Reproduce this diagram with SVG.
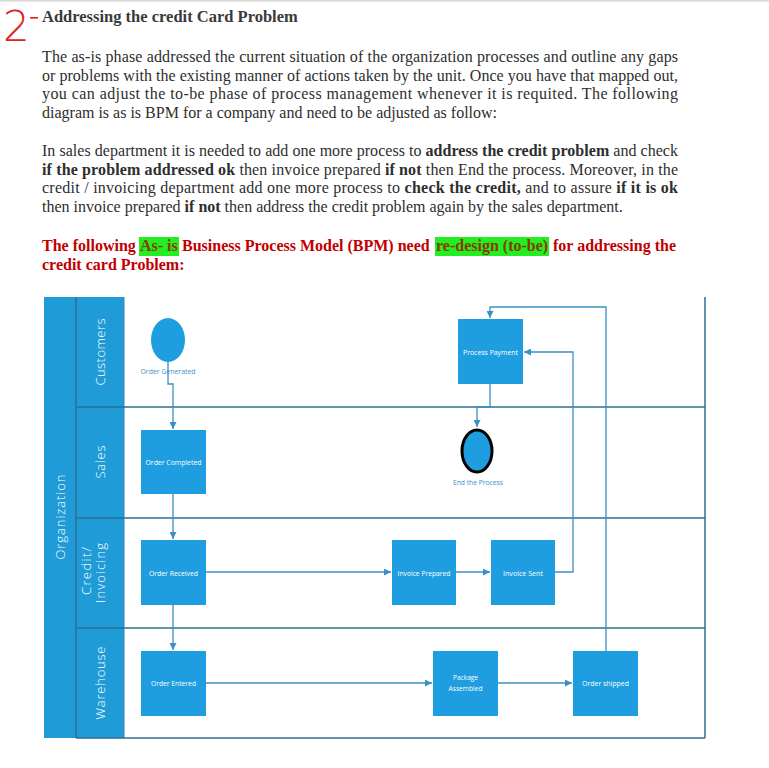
<svg xmlns="http://www.w3.org/2000/svg" width="769" height="768" viewBox="0 0 769 768">
<style>
.body{font-family:"Liberation Serif","Times New Roman",serif;font-size:16px;fill:#2e2e2e}
.b{font-weight:bold}
.red{font-family:"Liberation Serif","Times New Roman",serif;font-size:16px;font-weight:bold;fill:#c00000}
.hl{fill:#22ee22}
.box{fill:#1e9de0}
.hdr{fill:#1f9bd8}
.lane{stroke:#2f6f94;stroke-width:1.5;fill:none}
.conn{stroke:#3a8fc6;stroke-width:1.3;fill:none}
.lbl{font-family:"Open Sans","Noto Sans",sans-serif;font-size:8px;fill:#ffffff;text-anchor:middle}
.lblb{font-family:"Open Sans","Noto Sans",sans-serif;font-size:8px;fill:#3a8fc6;text-anchor:middle}
.lt{font-family:"Open Sans","Noto Sans",sans-serif;font-size:13px;font-weight:300;fill:#ffffff;text-anchor:middle}
</style>
<defs>
<marker id="arr" viewBox="0 0 10 10" refX="10" refY="5" markerWidth="7" markerHeight="7" orient="auto" markerUnits="userSpaceOnUse">
<path d="M0,0 L10,5 L0,10 z" fill="#3a8fc6"/>
</marker>
</defs>
<rect x="0" y="0" width="769" height="768" fill="#ffffff"/>
<rect x="0" y="0" width="769" height="1.5" fill="#d8d8d8"/>

<g id="heading">
<text x="3" y="41" font-family="DejaVu Sans, sans-serif" font-weight="200" font-size="42" fill="#e0201c">2</text>
<rect x="30" y="17" width="8" height="1.6" fill="#e0201c"/>
<text x="42" y="22" font-family="Liberation Serif, serif" font-weight="bold" font-size="16.5" fill="#3a3a3a">Addressing the credit Card Problem</text>
</g>

<g id="para1" class="body">
<text x="42" y="62" textLength="636" lengthAdjust="spacing">The as-is phase addressed the current situation of the organization processes and outline any gaps</text>
<text x="42" y="80.5" textLength="636" lengthAdjust="spacing">or problems with the existing manner of actions taken by the unit. Once you have that mapped out,</text>
<text x="42" y="99" textLength="636" lengthAdjust="spacing">you can adjust the to-be phase of process management whenever it is requited. The following</text>
<text x="42" y="117.5">diagram is as is BPM for a company and need to be adjusted as follow:</text>
</g>

<g id="para2" class="body">
<text x="42" y="156" textLength="636" lengthAdjust="spacing">In sales department it is needed to add one more process to <tspan class="b">address the credit problem</tspan> and check</text>
<text x="42" y="174.5" textLength="636" lengthAdjust="spacing"><tspan class="b">if the problem addressed ok</tspan> then invoice prepared <tspan class="b">if not</tspan> then End the process. Moreover, in the</text>
<text x="42" y="193" textLength="636" lengthAdjust="spacing">credit / invoicing department add one more process to <tspan class="b">check the credit,</tspan> and to assure <tspan class="b">if it is ok</tspan></text>
<text x="42" y="211.5">then invoice prepared <tspan class="b">if not</tspan> then address the credit problem again by the sales department.</text>
</g>

<g id="para3">
<rect class="hl" x="139" y="237" width="40" height="19"/>
<rect class="hl" x="435" y="237" width="114" height="19"/>
<text class="red" y="251"><tspan x="42">The following</tspan><tspan x="140" fill="#8a3a00">As- is</tspan><tspan x="182">Business Process Model (BPM) need</tspan><tspan x="436" fill="#8a3a00">re-design (to-be)</tspan><tspan x="553">for addressing the</tspan></text>
<text class="red" x="42" y="270">credit card Problem:</text>
</g>

<g id="pool">
<rect class="hdr" x="44" y="297" width="32" height="441"/>
<rect class="hdr" x="76" y="297" width="48" height="441"/>
<line x1="76" y1="297" x2="76" y2="738" stroke="#2f6f94" stroke-width="1.5"/>
<line x1="124" y1="297" x2="124" y2="738" stroke="#2f8ac0" stroke-width="1"/>
<path class="lane" d="M76,407 H705 M76,518 H705 M76,628 H705 M76,738 H705 M705,297 V738"/>
<text class="lt" transform="translate(65,517) rotate(-90)" textLength="85" lengthAdjust="spacing">Organization</text>
</g>

<g id="lane-customers"><text class="lt" transform="translate(105,352) rotate(-90)" textLength="67" lengthAdjust="spacing">Customers</text></g>
<g id="lane-sales"><text class="lt" transform="translate(105,462) rotate(-90)" textLength="33" lengthAdjust="spacing">Sales</text></g>
<g id="lane-credit"><text class="lt" transform="translate(91,571) rotate(-90)" textLength="48" lengthAdjust="spacing">Credit/</text><text class="lt" transform="translate(105,573) rotate(-90)" textLength="60" lengthAdjust="spacing">Invoicing</text></g>
<g id="lane-warehouse"><text class="lt" transform="translate(105,683) rotate(-90)" textLength="73" lengthAdjust="spacing">Warehouse</text></g>

<g id="connectors">
<path class="conn" d="M168,362 V384 H173 V429" marker-end="url(#arr)"/>
<path class="conn" d="M173,494 V539" marker-end="url(#arr)"/>
<path class="conn" d="M173,605 V650" marker-end="url(#arr)"/>
<path class="conn" d="M206,572 H391" marker-end="url(#arr)"/>
<path class="conn" d="M456,572 H490" marker-end="url(#arr)"/>
<path class="conn" d="M555,572 H573 V352 H524" marker-end="url(#arr)"/>
<path class="conn" d="M206,683 H432" marker-end="url(#arr)"/>
<path class="conn" d="M498,683 H572" marker-end="url(#arr)"/>
<path class="conn" d="M606,651 V307 H490 V318" marker-end="url(#arr)"/>
<path class="conn" d="M490,384 V407 H477 V427" marker-end="url(#arr)"/>
</g>

<g id="order-generated">
<ellipse cx="168" cy="340" rx="17" ry="22" class="box"/>
<text class="lblb" x="168" y="374" textLength="55" lengthAdjust="spacingAndGlyphs">Order Generated</text>
</g>
<g id="order-completed">
<rect class="box" x="141" y="430" width="65" height="64"/>
<text class="lbl" x="173.5" y="465" textLength="56" lengthAdjust="spacingAndGlyphs">Order Completed</text>
</g>
<g id="order-received">
<rect class="box" x="141" y="540" width="65" height="65"/>
<text class="lbl" x="173.5" y="576" textLength="49" lengthAdjust="spacingAndGlyphs">Order Received</text>
</g>
<g id="order-entered">
<rect class="box" x="141" y="651" width="65" height="65"/>
<text class="lbl" x="173.5" y="686" textLength="45" lengthAdjust="spacingAndGlyphs">Order Entered</text>
</g>
<g id="process-payment">
<rect class="box" x="458" y="319" width="65" height="65"/>
<text class="lbl" x="490.5" y="355" textLength="55" lengthAdjust="spacingAndGlyphs">Process Payment</text>
</g>
<g id="end-process">
<ellipse cx="477" cy="451" rx="15" ry="21" class="box" stroke="#000000" stroke-width="3"/>
<text class="lblb" x="478" y="485" textLength="50" lengthAdjust="spacingAndGlyphs">End the Process</text>
</g>
<g id="invoice-prepared">
<rect class="box" x="392" y="540" width="64" height="65"/>
<text class="lbl" x="424" y="576" textLength="53" lengthAdjust="spacingAndGlyphs">Invoice Prepared</text>
</g>
<g id="invoice-sent">
<rect class="box" x="491" y="540" width="64" height="65"/>
<text class="lbl" x="523" y="576" textLength="40" lengthAdjust="spacingAndGlyphs">Invoice Sent</text>
</g>
<g id="package-assembled">
<rect class="box" x="433" y="651" width="65" height="65"/>
<text class="lbl" x="465.5" y="680" textLength="25" lengthAdjust="spacingAndGlyphs">Package</text>
<text class="lbl" x="465.5" y="691" textLength="34" lengthAdjust="spacingAndGlyphs">Assembled</text>
</g>
<g id="order-shipped">
<rect class="box" x="573" y="651" width="65" height="65"/>
<text class="lbl" x="605.5" y="686" textLength="47" lengthAdjust="spacingAndGlyphs">Order shipped</text>
</g>
</svg>
